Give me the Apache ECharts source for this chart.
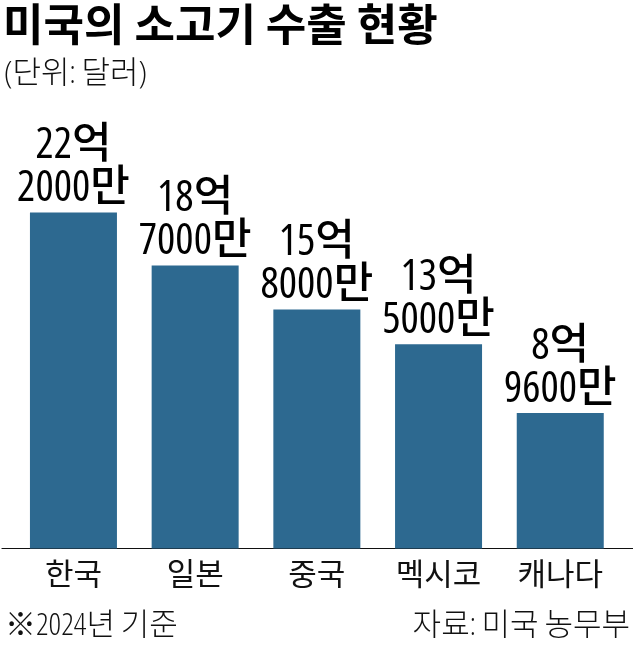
<!DOCTYPE html>
<html>
<head>
<meta charset="utf-8">
<script src="https://cdn.jsdelivr.net/npm/echarts@6/dist/echarts.min.js"></script>
<style>
html,body{margin:0;padding:0;background:#fff;}
#chart{width:633px;height:645px;}
</style>
</head>
<body>
<div id="chart"></div>
<script>
const categories = ['한국', '일본', '중국', '멕시코', '캐나다'];
const exportsUSD = [2220000000, 1870000000, 1580000000, 1350000000, 896000000];
const titleText = '미국의 소고기 수출 현황';
const unitText = '(단위: 달러)';
const noteText = '※2024년 기준';
const sourceText = '자료: 미국 농무부';

const KR = "'Noto Sans CJK KR'";
const NARROW = "'Open Sans','Noto Sans CJK KR'";

function fmt(v) {
  const eok = Math.floor(v / 100000000);
  const man = Math.round((v % 100000000) / 10000);
  return eok + '억\n' + man + '만';
}

const chart = echarts.init(document.getElementById('chart'), null, {renderer: 'canvas'});
chart.setOption({
  backgroundColor: '#ffffff',
  animation: false,
  title: [
    {text: titleText, left: -2, top: -3, textStyle: {fontFamily: KR, fontSize: 44, fontWeight: 'bold', color: '#000'}},
    {text: unitText, left: -1, top: 54, textStyle: {fontFamily: NARROW, fontSize: 31, fontWeight: '300 condensed', color: '#111'}},
    {text: noteText, left: 0, bottom: -2, textStyle: {fontFamily: NARROW, fontSize: 31, fontWeight: '300 condensed', color: '#111'}},
    {text: sourceText, right: -2, bottom: -2, textStyle: {fontFamily: NARROW, fontSize: 31, fontWeight: '300 condensed', color: '#111'}}
  ],
  grid: [
    {left: 12.6, right: 11.9, top: 170.25, bottom: 96.5, containLabel: false},
    {left: 2, right: 0, top: 170.25, bottom: 96.5, containLabel: false}
  ],
  xAxis: [
    {
      type: 'category', data: categories, gridIndex: 0,
      axisLine: {show: false}, axisTick: {show: false},
      axisLabel: {fontFamily: KR, fontSize: 31, color: '#111', margin: 9}
    },
    {
      type: 'category', data: categories, gridIndex: 1,
      axisLine: {show: true, lineStyle: {color: '#111', width: 1.2}},
      axisTick: {show: false}, axisLabel: {show: false}
    }
  ],
  yAxis: [
    {type: 'value', gridIndex: 0, min: 0, max: 2500000000, show: false, splitLine: {show: false}},
    {type: 'value', gridIndex: 1, min: 0, max: 2500000000, show: false, splitLine: {show: false}}
  ],
  series: [{
    type: 'bar',
    xAxisIndex: 0, yAxisIndex: 0,
    data: exportsUSD,
    barWidth: 87,
    itemStyle: {color: '#2d6990'},
    label: {
      show: true, position: 'top', distance: 2,
      formatter: p => fmt(p.value),
      fontFamily: NARROW, fontSize: 43, lineHeight: 43, color: '#000', fontWeight: '500 condensed'
    }
  }]
});
</script>
</body>
</html>
